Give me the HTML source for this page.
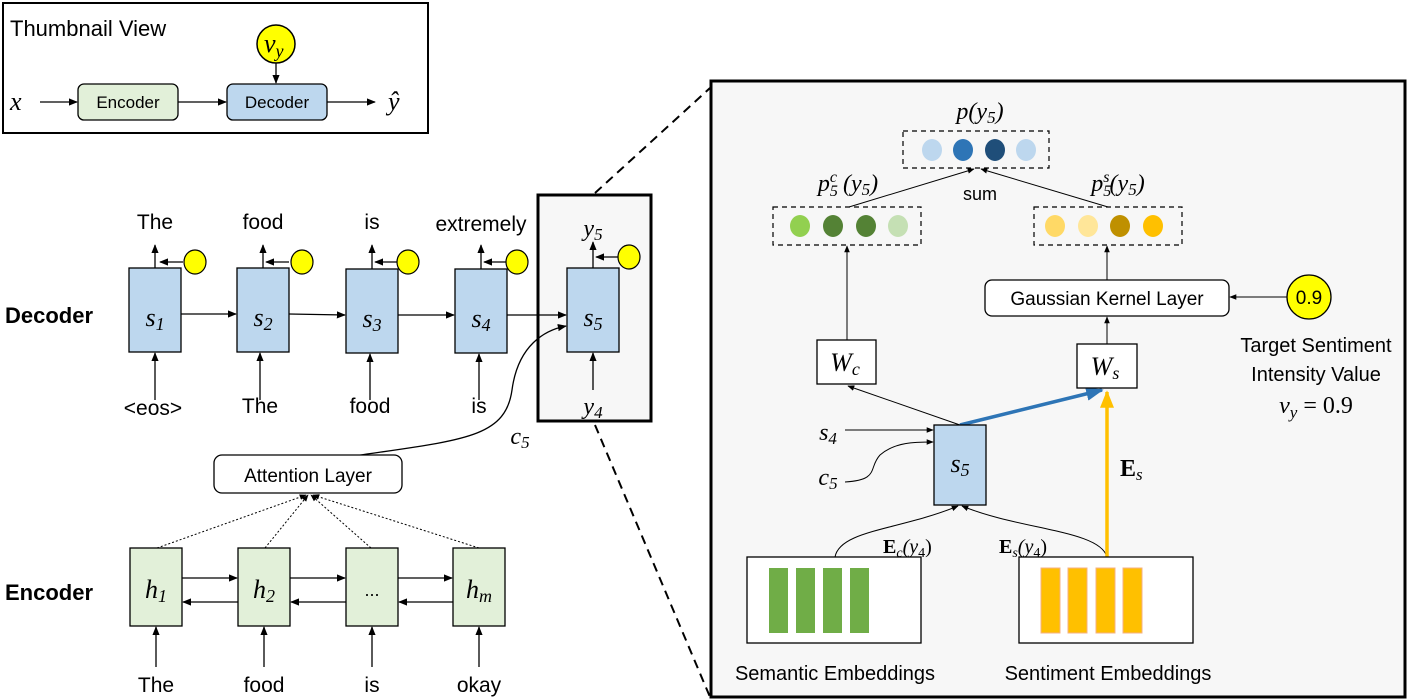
<!DOCTYPE html>
<html><head><meta charset="utf-8"><style>
html,body{margin:0;padding:0;background:#fff}
svg{display:block}
text{font-family:"Liberation Sans",sans-serif;fill:#000}
text.m,.m{font-family:"Liberation Serif",serif;font-style:italic}
text.b{font-family:"Liberation Serif",serif}
</style></head><body>
<svg width="1409" height="700" viewBox="0 0 1409 700" xmlns="http://www.w3.org/2000/svg">
<defs>
<marker id="a" viewBox="0 0 10 10" refX="9" refY="5" markerWidth="7" markerHeight="7" orient="auto-start-reverse"><path d="M0,1 L10,5 L0,9 z" fill="#000"/></marker>
<marker id="ab" viewBox="0 0 10 10" refX="9" refY="5" markerWidth="5" markerHeight="5" orient="auto"><path d="M0,1 L10,5 L0,9 z" fill="#2e75b6"/></marker>
<marker id="ay" viewBox="0 0 10 10" refX="9" refY="5" markerWidth="5" markerHeight="5" orient="auto"><path d="M0,1 L10,5 L0,9 z" fill="#ffc000"/></marker>
</defs>
<rect x="3" y="3" width="425" height="130" stroke-width="2" stroke="#000" fill="none"/>
<text x="10" y="36" font-size="22">Thumbnail View</text>
<circle cx="276" cy="44" r="19" fill="#ffff00" stroke="#000" stroke-width="1.5"/>
<text x="264" y="52" class="m" font-size="26">v<tspan font-size="18" dy="5">y</tspan></text>
<g stroke="#000" stroke-width="1.3" fill="none" marker-end="url(#a)">
<line x1="276" y1="63" x2="276" y2="83"/>
<line x1="40" y1="102" x2="77" y2="102"/>
<line x1="178" y1="102" x2="226" y2="102"/>
<line x1="327" y1="102" x2="375" y2="102"/>
</g>
<rect x="78" y="84" width="100" height="36" rx="6" fill="#e2f0d9" stroke="#000" stroke-width="1.3"/>
<rect x="227" y="84" width="100" height="36" rx="6" fill="#bdd7ee" stroke="#000" stroke-width="1.3"/>
<text x="128" y="108" font-size="17" text-anchor="middle">Encoder</text>
<text x="277" y="108" font-size="17" text-anchor="middle">Decoder</text>
<text x="10" y="110" class="m" font-size="26">x</text>
<text x="388" y="110" class="m" font-size="26">ŷ</text>

<g stroke="#000" stroke-width="2" stroke-dasharray="9,6">
<line x1="595" y1="193" x2="710" y2="88"/>
<line x1="595" y1="425" x2="710" y2="697"/>
</g>
<rect x="538" y="195" width="113" height="226" fill="#f7f7f7" stroke="#000" stroke-width="3"/>

<text x="5" y="323" font-size="22" font-weight="bold">Decoder</text>
<text x="5" y="600" font-size="22" font-weight="bold">Encoder</text>

<g stroke="#000" stroke-width="1.3" fill="#bdd7ee">
<rect x="129" y="268" width="52" height="84"/>
<rect x="237" y="268" width="52" height="84"/>
<rect x="346" y="269" width="52" height="84"/>
<rect x="455" y="269" width="52" height="84"/>
<rect x="567" y="268" width="52" height="84"/>
</g>
<g font-size="26" text-anchor="middle">
<text x="155" y="326" class="m">s<tspan font-size="18" dy="4">1</tspan></text>
<text x="263" y="326" class="m">s<tspan font-size="18" dy="4">2</tspan></text>
<text x="372" y="327" class="m">s<tspan font-size="18" dy="4">3</tspan></text>
<text x="481" y="327" class="m">s<tspan font-size="18" dy="4">4</tspan></text>
<text x="593" y="326" class="m">s<tspan font-size="18" dy="4">5</tspan></text>
</g>
<g stroke="#000" stroke-width="1.3" fill="none" marker-end="url(#a)">
<line x1="181" y1="314" x2="236" y2="314"/>
<line x1="289" y1="314" x2="345" y2="315"/>
<line x1="398" y1="315" x2="454" y2="315"/>
<line x1="507" y1="315" x2="566" y2="315"/>
<line x1="155" y1="268" x2="155" y2="245"/>
<line x1="263" y1="268" x2="263" y2="245"/>
<line x1="372" y1="269" x2="372" y2="245"/>
<line x1="481" y1="269" x2="481" y2="245"/>
<line x1="593" y1="268" x2="593" y2="242"/>
<line x1="183" y1="262" x2="160" y2="262"/>
<line x1="289" y1="262" x2="266" y2="262"/>
<line x1="397" y1="262" x2="375" y2="262"/>
<line x1="506" y1="262" x2="484" y2="262"/>
<line x1="618" y1="257" x2="596" y2="257"/>
<line x1="155" y1="400" x2="155" y2="353"/>
<line x1="260" y1="400" x2="260" y2="353"/>
<line x1="370" y1="400" x2="370" y2="354"/>
<line x1="479" y1="400" x2="479" y2="354"/>
<line x1="593" y1="390" x2="593" y2="353"/>
<path d="M340,458 C460,440 505,440 512,390 C518,345 545,330 566,326"/>
</g>
<g fill="#ffff00" stroke="#000" stroke-width="1.2">
<ellipse cx="195" cy="262" rx="11" ry="12"/>
<ellipse cx="302" cy="262" rx="11" ry="12"/>
<ellipse cx="408" cy="262" rx="11" ry="12"/>
<ellipse cx="517" cy="262" rx="11" ry="12"/>
<ellipse cx="629" cy="257" rx="11" ry="12"/>
</g>
<g font-size="21" text-anchor="middle">
<text x="155" y="229">The</text>
<text x="263" y="229">food</text>
<text x="372" y="229">is</text>
<text x="481" y="231">extremely</text>
<text x="593" y="236" class="m" font-size="24">y<tspan font-size="17" dy="4">5</tspan></text>
<text x="153" y="415">&lt;eos&gt;</text>
<text x="260" y="413">The</text>
<text x="370" y="413">food</text>
<text x="479" y="413">is</text>
<text x="593" y="414" class="m" font-size="24">y<tspan font-size="17" dy="4">4</tspan></text>
<text x="520" y="444" class="m" font-size="24">c<tspan font-size="17" dy="4">5</tspan></text>
</g>

<rect x="214" y="455" width="188" height="38" rx="8" fill="#fff" stroke="#000" stroke-width="1.3"/>
<text x="308" y="482" font-size="19" text-anchor="middle">Attention Layer</text>
<g stroke="#000" stroke-width="1" stroke-dasharray="2,2" fill="none" marker-end="url(#a)">
<line x1="157" y1="548" x2="306" y2="495"/>
<line x1="265" y1="548" x2="308" y2="495"/>
<line x1="371" y1="548" x2="311" y2="495"/>
<line x1="479" y1="548" x2="313" y2="495"/>
</g>
<g stroke="#000" stroke-width="1.3" fill="#e2f0d9">
<rect x="130" y="548" width="52" height="78"/>
<rect x="238" y="548" width="52" height="78"/>
<rect x="346" y="548" width="52" height="78"/>
<rect x="453" y="548" width="52" height="78"/>
</g>
<g stroke="#000" stroke-width="1.3" fill="none" marker-end="url(#a)">
<line x1="182" y1="578" x2="237" y2="578"/>
<line x1="290" y1="578" x2="345" y2="578"/>
<line x1="398" y1="578" x2="452" y2="578"/>
<line x1="238" y1="602" x2="183" y2="602"/>
<line x1="346" y1="602" x2="291" y2="602"/>
<line x1="453" y1="602" x2="399" y2="602"/>
<line x1="156" y1="667" x2="156" y2="627"/>
<line x1="264" y1="667" x2="264" y2="627"/>
<line x1="372" y1="667" x2="372" y2="627"/>
<line x1="479" y1="667" x2="479" y2="627"/>
</g>
<g font-size="26" text-anchor="middle">
<text x="156" y="598" class="m">h<tspan font-size="18" dy="4">1</tspan></text>
<text x="264" y="598" class="m">h<tspan font-size="18" dy="4">2</tspan></text>
<text x="372" y="596" font-size="18">...</text>
<text x="479" y="598" class="m">h<tspan font-size="18" dy="4">m</tspan></text>
</g>
<g font-size="21" text-anchor="middle">
<text x="156" y="692">The</text>
<text x="264" y="692">food</text>
<text x="372" y="692">is</text>
<text x="479" y="692">okay</text>
</g>

<rect x="711" y="81" width="694" height="616" fill="#f7f7f7" stroke="#000" stroke-width="3"/>
<text x="980" y="119" class="m" font-size="24" text-anchor="middle">p(y<tspan font-size="17" dy="4">5</tspan><tspan dy="-4">)</tspan></text>
<text x="848" y="191" class="m" font-size="24" text-anchor="middle">p<tspan font-size="16" dy="5">5</tspan><tspan font-size="16" dx="-8" dy="-14">c</tspan><tspan dy="9"> (y</tspan><tspan font-size="17" dy="4">5</tspan><tspan dy="-4">)</tspan></text>
<text x="1118" y="191" class="m" font-size="24" text-anchor="middle">p<tspan font-size="16" dy="5">5</tspan><tspan font-size="16" dx="-8" dy="-14">s</tspan><tspan dy="9">(y</tspan><tspan font-size="17" dy="4">5</tspan><tspan dy="-4">)</tspan></text>
<text x="980" y="200" font-size="18" text-anchor="middle">sum</text>
<g stroke="#000" stroke-width="1.2" fill="none" stroke-dasharray="5,4">
<rect x="903" y="131" width="146" height="37"/>
<rect x="773" y="207" width="148" height="38"/>
<rect x="1034" y="207" width="148" height="38"/>
</g>
<g>
<ellipse cx="932" cy="150" rx="10" ry="11" fill="#bdd7ee"/>
<ellipse cx="963" cy="150" rx="10" ry="11" fill="#2e75b6"/>
<ellipse cx="995" cy="150" rx="10" ry="11" fill="#1f4e79"/>
<ellipse cx="1026" cy="150" rx="10" ry="11" fill="#bdd7ee"/>
<ellipse cx="800" cy="226" rx="10" ry="11" fill="#92d050"/>
<ellipse cx="833" cy="226" rx="10" ry="11" fill="#548235"/>
<ellipse cx="866" cy="226" rx="10" ry="11" fill="#548235"/>
<ellipse cx="898" cy="226" rx="10" ry="11" fill="#c5e0b4"/>
<ellipse cx="1055" cy="226" rx="10" ry="11" fill="#ffd966"/>
<ellipse cx="1088" cy="226" rx="10" ry="11" fill="#ffe699"/>
<ellipse cx="1120" cy="226" rx="10" ry="11" fill="#bf9000"/>
<ellipse cx="1153" cy="226" rx="10" ry="11" fill="#ffc000"/>
</g>
<g stroke="#000" stroke-width="1" fill="none" marker-end="url(#a)">
<line x1="849" y1="207" x2="974" y2="169"/>
<line x1="1108" y1="207" x2="981" y2="169"/>
<line x1="847" y1="340" x2="847" y2="246"/>
<line x1="1107" y1="280" x2="1107" y2="246"/>
<line x1="1107" y1="344" x2="1107" y2="317"/>
<line x1="1287" y1="297" x2="1230" y2="297"/>
<line x1="960" y1="425" x2="848" y2="386"/>
<line x1="845" y1="430" x2="933" y2="430"/>
<path d="M845,482 C880,480 868,468 880,455 C895,442 915,442 933,442"/>
<path d="M835,557 C840,530 900,530 958,506"/>
<path d="M1107,557 C1100,530 1020,530 962,506"/>
</g>
<line x1="960" y1="425" x2="1102" y2="390" stroke="#2e75b6" stroke-width="3.5" marker-end="url(#ab)"/>
<line x1="1107" y1="557" x2="1107" y2="392" stroke="#ffc000" stroke-width="3.5" marker-end="url(#ay)"/>
<rect x="985" y="280" width="244" height="36" rx="7" fill="#fff" stroke="#000" stroke-width="1.3"/>
<text x="1107" y="305" font-size="19" text-anchor="middle">Gaussian Kernel Layer</text>
<circle cx="1309" cy="297" r="22" fill="#ffff00" stroke="#000" stroke-width="1.3"/>
<text x="1309" y="304" font-size="19" text-anchor="middle">0.9</text>
<text x="1316" y="352" font-size="20" text-anchor="middle">Target Sentiment</text>
<text x="1316" y="381" font-size="20" text-anchor="middle">Intensity Value</text>
<text x="1316" y="413" class="m" font-size="24" text-anchor="middle">v<tspan font-size="17" dy="5">y</tspan><tspan dy="-5" font-style="normal"> = 0.9</tspan></text>
<rect x="817" y="340" width="59" height="44" fill="#fff" stroke="#000" stroke-width="1.3"/>
<rect x="1077" y="344" width="60" height="44" fill="#fff" stroke="#000" stroke-width="1.3"/>
<text x="845" y="371" class="m" font-size="26" text-anchor="middle">W<tspan font-size="18" dy="4">c</tspan></text>
<text x="1105" y="375" class="m" font-size="26" text-anchor="middle">W<tspan font-size="18" dy="4">s</tspan></text>
<rect x="934" y="425" width="52" height="80" fill="#bdd7ee" stroke="#000" stroke-width="1.3"/>
<text x="960" y="472" class="m" font-size="26" text-anchor="middle">s<tspan font-size="18" dy="4">5</tspan></text>
<text x="828" y="440" class="m" font-size="24" text-anchor="middle">s<tspan font-size="17" dy="4">4</tspan></text>
<text x="828" y="485" class="m" font-size="24" text-anchor="middle">c<tspan font-size="17" dy="4">5</tspan></text>
<text x="1120" y="476" class="b" font-weight="bold" font-size="24">E<tspan font-size="17" dy="4" font-style="italic" font-weight="normal">s</tspan></text>
<text x="883" y="553" class="b" font-size="20"><tspan font-weight="bold">E</tspan><tspan font-style="italic" font-size="14" dy="4">c</tspan><tspan dy="-4" font-style="italic">(y</tspan><tspan font-size="14" dy="4">4</tspan><tspan dy="-4">)</tspan></text>
<text x="999" y="553" class="b" font-size="20"><tspan font-weight="bold">E</tspan><tspan font-style="italic" font-size="14" dy="4">s</tspan><tspan dy="-4" font-style="italic">(y</tspan><tspan font-size="14" dy="4">4</tspan><tspan dy="-4">)</tspan></text>
<rect x="747" y="557" width="174" height="86" fill="#fff" stroke="#000" stroke-width="1.3"/>
<rect x="1019" y="557" width="174" height="86" fill="#fff" stroke="#000" stroke-width="1.3"/>
<g fill="#70ad47">
<rect x="769" y="568" width="19" height="65"/>
<rect x="796" y="568" width="19" height="65"/>
<rect x="823" y="568" width="19" height="65"/>
<rect x="850" y="568" width="19" height="65"/>
</g>
<g fill="#ffc000" stroke="#f4b183" stroke-width="1">
<rect x="1041" y="568" width="19" height="65"/>
<rect x="1068" y="568" width="19" height="65"/>
<rect x="1096" y="568" width="19" height="65"/>
<rect x="1123" y="568" width="19" height="65"/>
</g>
<text x="835" y="680" font-size="20" text-anchor="middle">Semantic Embeddings</text>
<text x="1108" y="680" font-size="20" text-anchor="middle">Sentiment Embeddings</text>
</svg>
</body></html>
